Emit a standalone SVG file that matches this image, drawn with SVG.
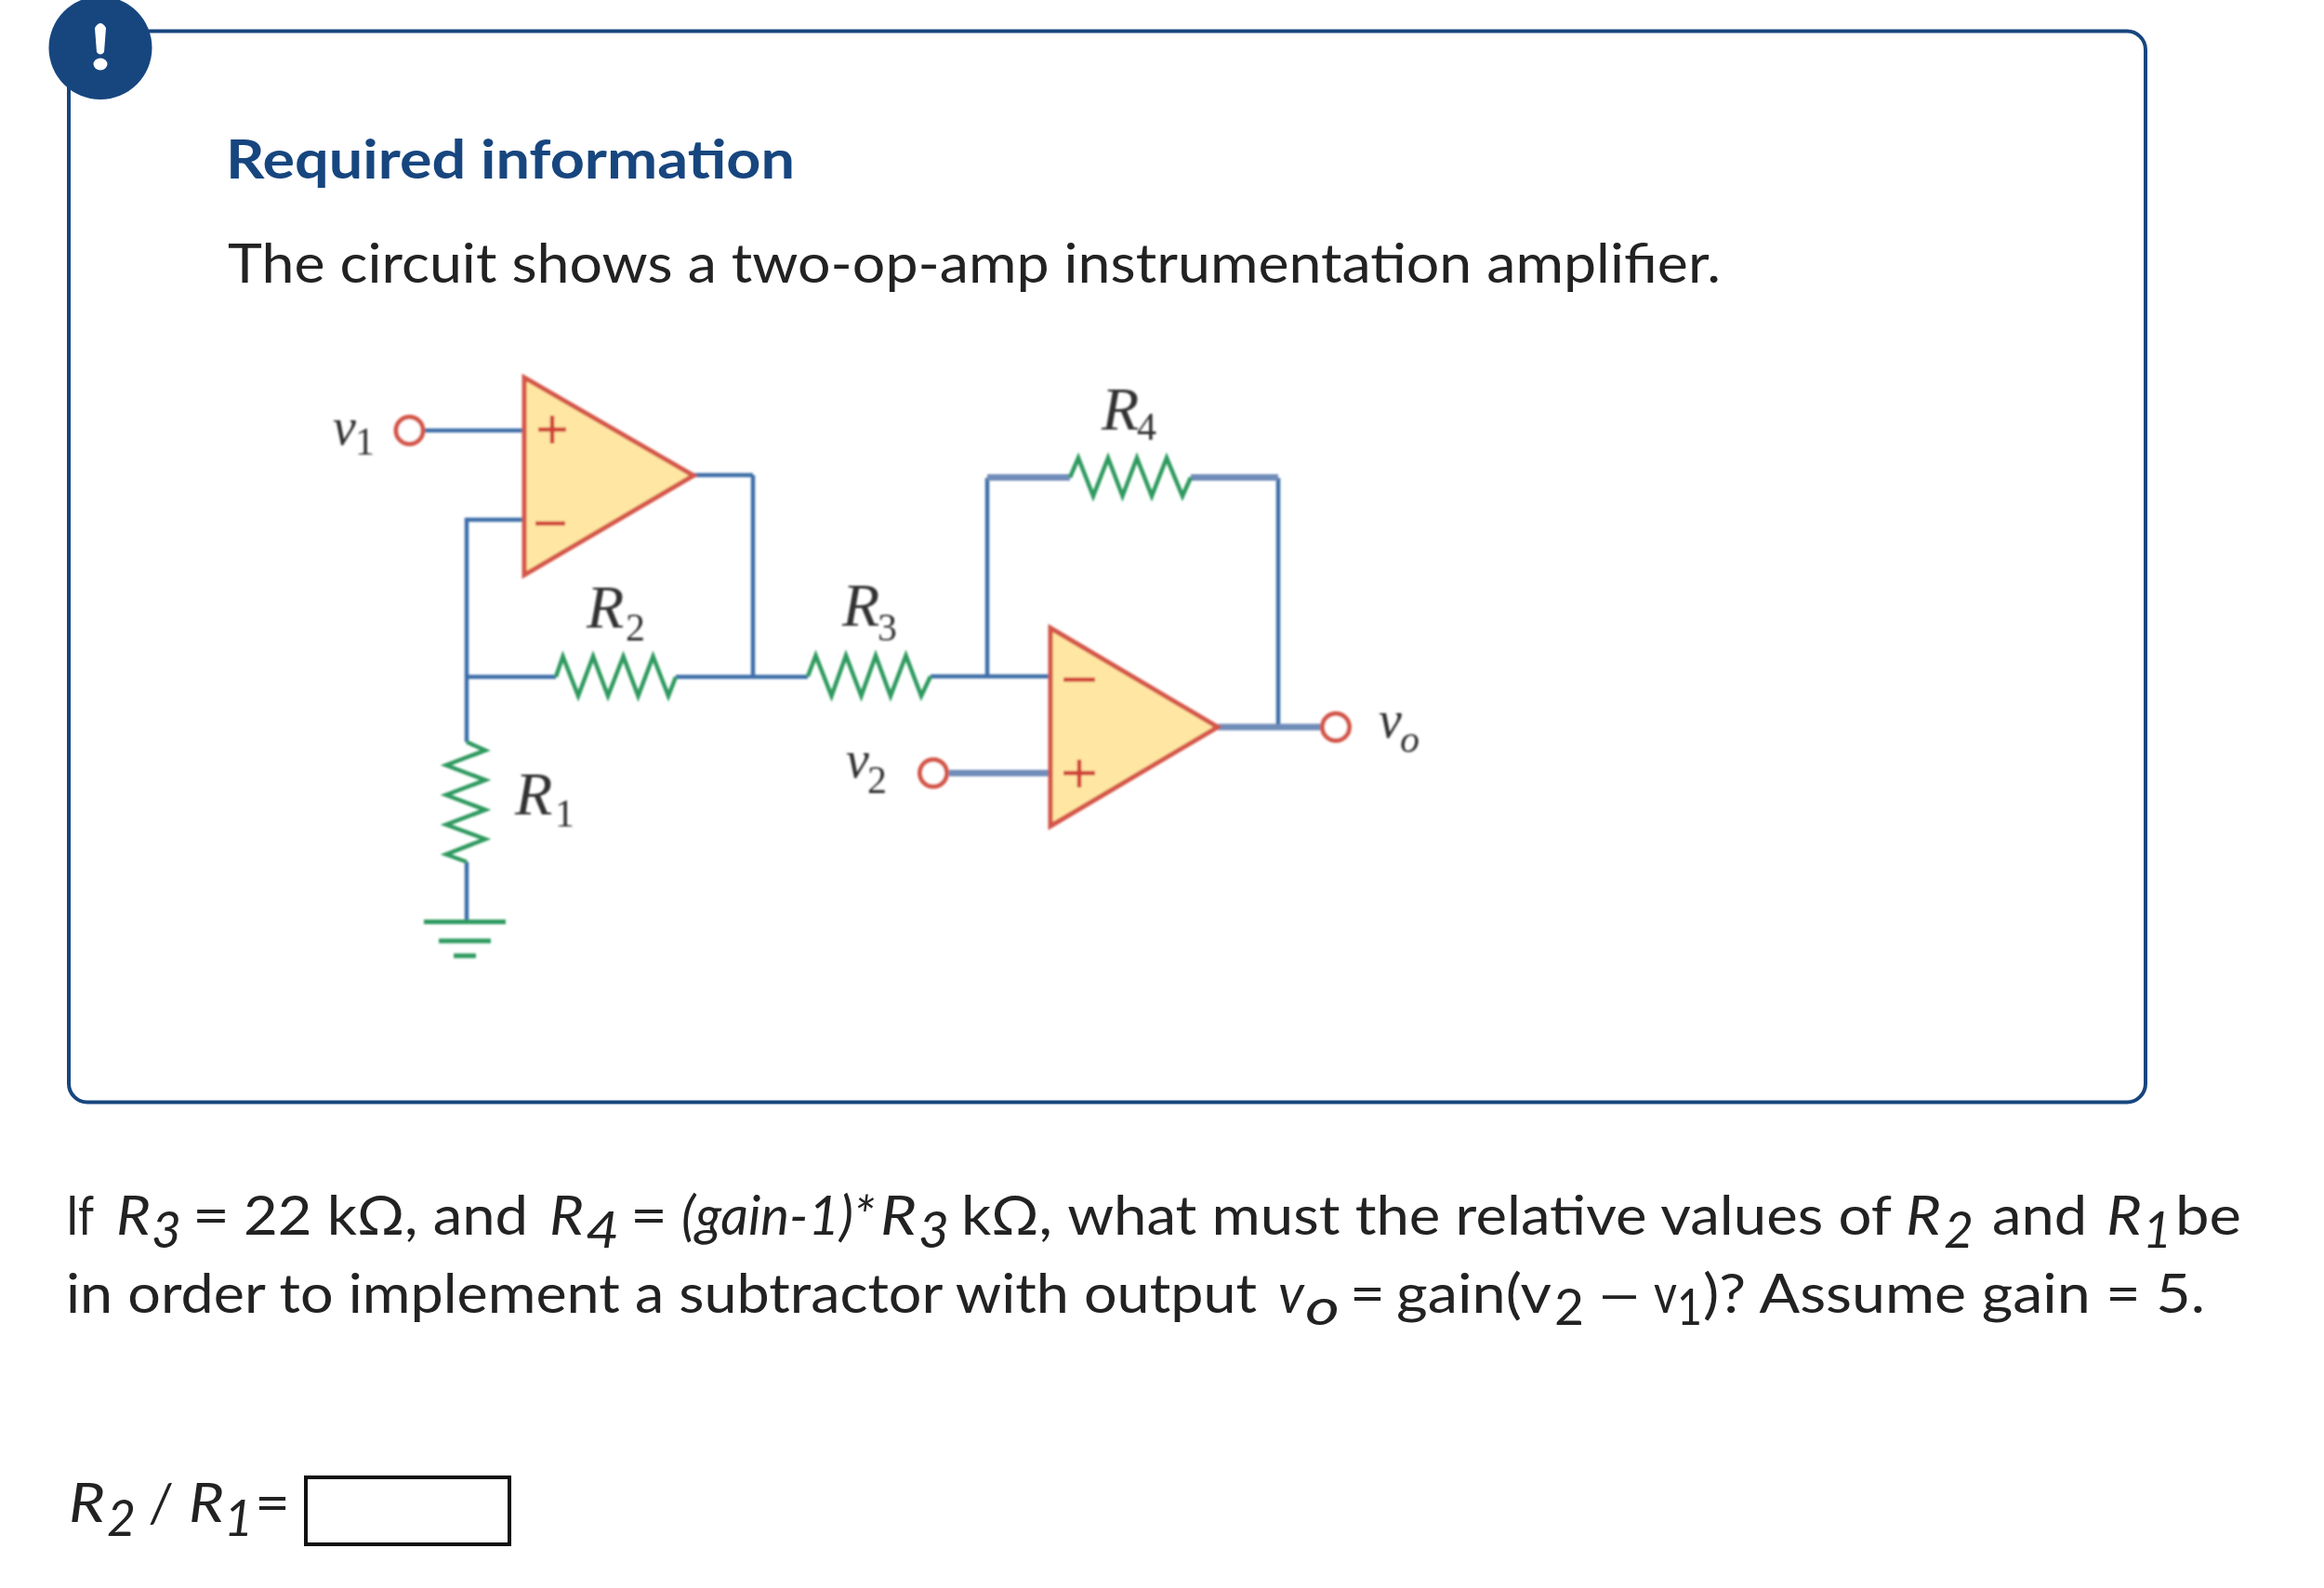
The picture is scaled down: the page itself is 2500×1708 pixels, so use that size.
<svg xmlns="http://www.w3.org/2000/svg" width="2500" height="1708" viewBox="0 0 2500 1708">
<defs>
<style>
text{font-family:"Lato","Noto Sans","Liberation Sans",sans-serif;fill:#222;font-size:58px}
.i{font-style:italic}
.s{font-size:54px;font-style:italic}
.n{font-size:54px}
.c{font-family:"Liberation Serif","Times New Roman",serif;fill:#333;font-style:italic;font-size:66px}
.cv{font-family:"Liberation Serif",serif;fill:#333;font-style:italic;font-size:56px}
.cs{font-family:"Liberation Serif",serif;fill:#333;font-size:42px}
.w{fill:none;stroke:#4070a8;stroke-width:4.5;stroke-linejoin:miter}
.wl{fill:none;stroke:#6f8cb8;stroke-width:7}
.r{fill:none;stroke:#2e9a5e;stroke-width:4.5;stroke-linejoin:miter}
.o{fill:#ffe7a3;stroke:#d4574a;stroke-width:5}
.t{fill:#fff;stroke:#d4574a;stroke-width:5}
.m{fill:none;stroke:#cf4038;stroke-width:4.5}
.g{fill:none;stroke:#2e9a5e;stroke-width:5}
</style>
<filter id="soft" x="-5%" y="-5%" width="110%" height="110%"><feGaussianBlur stdDeviation="0.9"/></filter>
</defs>
<rect width="2500" height="1708" fill="#fff"/>
<g id="panel">
<rect x="74" y="33.500" width="2234" height="1152" rx="20" fill="none" stroke="#17467f" stroke-width="4"/>
<circle cx="108" cy="51.500" r="55.500" fill="#17467f"/>
<path d="M102 30Q108 20 114 30L112 56Q108 61 104 56Z" fill="#fff"/>
<ellipse cx="108" cy="69" rx="7.500" ry="6.500" fill="#fff"/>
<text x="243" y="192" style="font-weight:700;fill:#17467f" textLength="612" lengthAdjust="spacingAndGlyphs">Required information</text>
<text x="245" y="304" textLength="1606" lengthAdjust="spacingAndGlyphs">The circuit shows a two-op-amp instrumentation amplifier.</text>
</g>
<g filter="url(#soft)">
<g id="connectors">
<path class="w" d="M455 463H564"/>
<path class="w" d="M564 559H502V798M502 728H598M727 728H869M810 511H746M810 511V728M502 927V991"/>
<path class="w" d="M1001 727.500H1130M1062 727.500V514M1375 514V782"/>
<path class="wl" d="M1062 513.500H1151M1281 513.500H1375"/>
<path class="wl" d="M1310 782H1423M1021 831.500H1130"/>
</g>
<g id="opamp1"><path class="o" d="M564 406V618.500L746 511.500Z"/><path class="m" d="M579 462H609M594 447V477M576 563H608"/></g>
<g id="opamp2"><path class="o" d="M1130 675.500V888.500L1310 782Z"/><path class="m" d="M1144 731H1178M1144 831.500H1178M1161 817V847"/></g>
<g id="R1"><path class="r" d="M502 798L522 807L480 823L522 839L480 855L522 871L480 887L522 902.500L480 919L502 927"/><text class="c" x="554" y="876">R</text><text class="cs" x="597" y="889">1</text></g>
<g id="R2"><path class="r" d="M598 728L605.500 706L622 748.500L638 706L654 748.500L670.500 706L686.500 748.500L702.500 706L719 748.500L727 728"/><text class="c" x="631" y="675">R</text><text class="cs" x="673" y="689">2</text></g>
<g id="R3"><path class="r" d="M869 727.500L877.500 705L894.500 748.500L910 705L926.500 748.500L942 705L958 748.500L974.500 705L991 748.500L1001 727.500"/><text class="c" x="906" y="673">R</text><text class="cs" x="944" y="689">3</text></g>
<g id="R4"><path class="r" d="M1151 513.500L1160 492.500L1176 533.500L1192 492.500L1207.500 533.500L1223 492.500L1239 533.500L1255 492.500L1272 533.500L1281 513.500"/><text class="c" x="1185" y="462">R</text><text class="cs" x="1223" y="473">4</text></g>
<g id="ground"><path class="g" d="M456 991.500H544M472 1012H528M488 1028H512"/></g>
<g id="v1"><circle class="t" cx="440.500" cy="463" r="14.500"/><text class="cv" x="358" y="478">v</text><text class="cs" x="382" y="489">1</text></g>
<g id="v2"><circle class="t" cx="1004" cy="831.500" r="14.500"/><text class="cv" x="910" y="836">v</text><text class="cs" x="933" y="853">2</text></g>
<g id="vo"><circle class="t" cx="1437" cy="782" r="14.500"/><text class="cv" x="1483" y="793">v</text><text class="cs" x="1506" y="809" style="font-style:italic">o</text></g>
</g>
<g id="question">
<text x="71" y="1328" textLength="30" lengthAdjust="spacingAndGlyphs">If</text>
<text class="i" x="125" y="1328" textLength="37" lengthAdjust="spacingAndGlyphs">R</text><text class="s" x="163" y="1342" textLength="32" lengthAdjust="spacingAndGlyphs">3</text>
<text x="207" y="1328" textLength="40" lengthAdjust="spacingAndGlyphs">=</text>
<text x="262" y="1328" textLength="306" lengthAdjust="spacingAndGlyphs">22 kΩ, and</text>
<text class="i" x="591" y="1328" textLength="37" lengthAdjust="spacingAndGlyphs">R</text><text class="s" x="630" y="1342" textLength="36" lengthAdjust="spacingAndGlyphs">4</text>
<text x="678" y="1328" textLength="40" lengthAdjust="spacingAndGlyphs">=</text>
<text class="i" x="733" y="1328" textLength="208" lengthAdjust="spacingAndGlyphs">(gain-1)*</text>
<text class="i" x="947" y="1328" textLength="39" lengthAdjust="spacingAndGlyphs">R</text><text class="s" x="988" y="1342" textLength="33" lengthAdjust="spacingAndGlyphs">3</text>
<text x="1034" y="1328" textLength="1001" lengthAdjust="spacingAndGlyphs">kΩ, what must the relative values of</text>
<text class="i" x="2050" y="1328" textLength="38" lengthAdjust="spacingAndGlyphs">R</text><text class="s" x="2091" y="1342" textLength="32" lengthAdjust="spacingAndGlyphs">2</text>
<text x="2143" y="1328" textLength="102" lengthAdjust="spacingAndGlyphs">and</text>
<text class="i" x="2266" y="1328" textLength="38" lengthAdjust="spacingAndGlyphs">R</text><text class="s" x="2305" y="1342">1</text>
<text x="2340" y="1328" textLength="71" lengthAdjust="spacingAndGlyphs">be</text>
<text x="71" y="1412" textLength="1281" lengthAdjust="spacingAndGlyphs">in order to implement a subtractor with output</text>
<text class="i" x="1375" y="1412">v</text><text class="s" x="1404" y="1425" textLength="37" lengthAdjust="spacingAndGlyphs">o</text>
<text x="1452" y="1412" textLength="38" lengthAdjust="spacingAndGlyphs">=</text>
<text x="1502" y="1412" textLength="167" lengthAdjust="spacingAndGlyphs">gain(v</text>
<text class="n" x="1672" y="1425" textLength="32" lengthAdjust="spacingAndGlyphs">2</text>
<text x="1716" y="1412" textLength="52" lengthAdjust="spacingAndGlyphs">–</text>
<text x="1779" y="1412" textLength="25" lengthAdjust="spacingAndGlyphs">v</text>
<text class="n" x="1804" y="1425" textLength="27" lengthAdjust="spacingAndGlyphs">1</text>
<text x="1832" y="1412" textLength="540" lengthAdjust="spacingAndGlyphs">)? Assume gain = 5.</text>
<text class="i" x="74" y="1637" textLength="39" lengthAdjust="spacingAndGlyphs">R</text><text class="s" x="115" y="1652" textLength="31" lengthAdjust="spacingAndGlyphs">2</text>
<text class="i" x="162" y="1637" textLength="22" lengthAdjust="spacingAndGlyphs">/</text>
<text class="i" x="203" y="1637" textLength="38" lengthAdjust="spacingAndGlyphs">R</text><text class="s" x="241" y="1652">1</text>
<text x="274" y="1637" textLength="38" lengthAdjust="spacingAndGlyphs">=</text>
<rect x="329" y="1589" width="219" height="72" fill="#fff" stroke="#111" stroke-width="4"/>
</g>
</svg>
